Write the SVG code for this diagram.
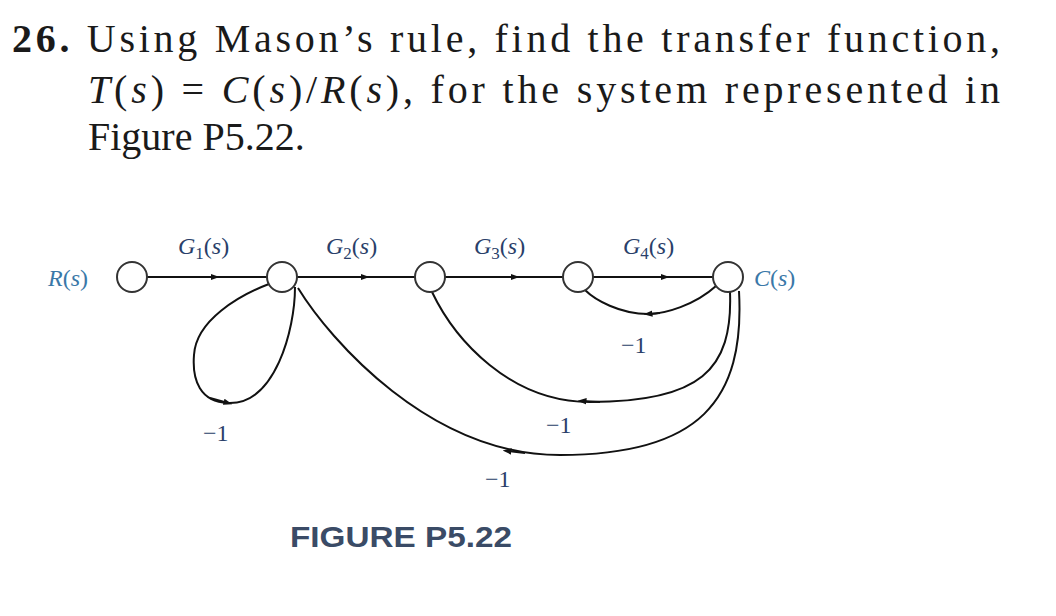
<svg xmlns="http://www.w3.org/2000/svg" width="1056" height="616" viewBox="0 0 1056 616">
<style>
.t{font-family:"Liberation Serif",serif;font-size:40px;fill:#1a1a1a}
.l{font-family:"Liberation Serif",serif;font-size:24px;fill:#2a3f6a}
.b{font-family:"Liberation Serif",serif;font-size:24px;fill:#3a78a8}
.e{fill:none;stroke:#111;stroke-width:2}
.n{fill:#fff;stroke:#333;stroke-width:2}
</style>
<defs><marker id="a" viewBox="0 0 10 10" refX="5" refY="5" markerWidth="9" markerHeight="9" markerUnits="userSpaceOnUse" orient="auto"><path d="M0,1.5L10,5L0,8.5z" fill="#111"/></marker></defs>
<text class="t" x="12" y="52" textLength="988" lengthAdjust="spacing"><tspan font-weight="bold">26.</tspan> Using Mason’s rule, find the transfer function,</text>
<text class="t" x="88" y="103" textLength="912" lengthAdjust="spacing"><tspan font-style="italic">T</tspan>(<tspan font-style="italic">s</tspan>) = <tspan font-style="italic">C</tspan>(<tspan font-style="italic">s</tspan>)/<tspan font-style="italic">R</tspan>(<tspan font-style="italic">s</tspan>), for the system represented in</text>
<text class="t" x="88" y="150">Figure P5.22.</text>
<g id="connectors">
<path class="e" d="M147,277H267"/><path class="e" d="M190,277L215,277" marker-end="url(#a)"/>
<path class="e" d="M297,277H415"/><path class="e" d="M340,277L365,277" marker-end="url(#a)"/>
<path class="e" d="M445,277H563"/><path class="e" d="M490,277L515,277" marker-end="url(#a)"/>
<path class="e" d="M593,277H713"/><path class="e" d="M640,277L665,277" marker-end="url(#a)"/>
<path class="e" d="M295,287C295,330 275,405 228,403C200,402 192,380 194,355C196,320 240,295 269,284"/>
<path class="e" d="M210,398L228,403" marker-end="url(#a)"/>
<path class="e" d="M716,286C695,305 665,314 648,314C620,314 595,300 585,290"/>
<path class="e" d="M660,313L648,314" marker-end="url(#a)"/>
<path class="e" d="M730,292C733,370 700,402 590,402C510,402 455,340 432,292"/>
<path class="e" d="M600,402L582,401" marker-end="url(#a)"/>
<path class="e" d="M739,291C745,400 700,455 560,455C430,455 330,340 298,288"/>
<path class="e" d="M525,453L507,451" marker-end="url(#a)"/>
</g>
<g id="R"><circle class="n" cx="132" cy="277" r="15"/><text class="b" x="48" y="286"><tspan font-style="italic">R</tspan>(<tspan font-style="italic">s</tspan>)</text></g>
<g id="n1"><circle class="n" cx="282" cy="277" r="15"/></g>
<g id="n2"><circle class="n" cx="430" cy="277" r="15"/></g>
<g id="n3"><circle class="n" cx="578" cy="277" r="15"/></g>
<g id="C"><circle class="n" cx="728" cy="277" r="15"/><text class="b" x="754" y="286"><tspan font-style="italic">C</tspan>(<tspan font-style="italic">s</tspan>)</text></g>
<g id="labels">
<text class="l" x="178" y="254"><tspan font-style="italic">G</tspan><tspan font-size="17" dy="5">1</tspan><tspan dy="-5">(</tspan><tspan font-style="italic">s</tspan>)</text>
<text class="l" x="326" y="254"><tspan font-style="italic">G</tspan><tspan font-size="17" dy="5">2</tspan><tspan dy="-5">(</tspan><tspan font-style="italic">s</tspan>)</text>
<text class="l" x="474" y="254"><tspan font-style="italic">G</tspan><tspan font-size="17" dy="5">3</tspan><tspan dy="-5">(</tspan><tspan font-style="italic">s</tspan>)</text>
<text class="l" x="623" y="254"><tspan font-style="italic">G</tspan><tspan font-size="17" dy="5">4</tspan><tspan dy="-5">(</tspan><tspan font-style="italic">s</tspan>)</text>
<text class="l" x="203" y="441">−1</text>
<text class="l" x="621" y="353">−1</text>
<text class="l" x="546" y="433">−1</text>
<text class="l" x="485" y="487">−1</text>
</g>
<text x="290" y="547" font-family="'Liberation Sans Narrow','Liberation Sans',sans-serif" font-weight="bold" font-size="30" fill="#3a4b66" textLength="222" lengthAdjust="spacingAndGlyphs">FIGURE P5.22</text>
</svg>
